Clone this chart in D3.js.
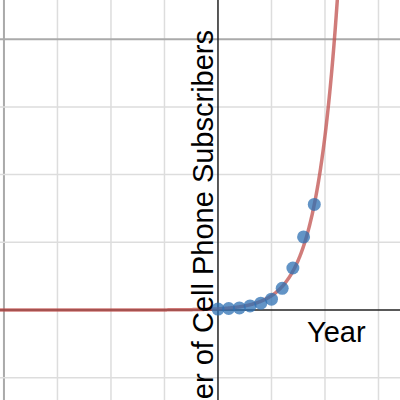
<!DOCTYPE html><html><head><script src="https://cdn.jsdelivr.net/npm/d3@7"></script>
<style>body{margin:0;background:#fff}</style></head><body><svg width="400" height="400"></svg><script>
const years=[0,1,2,3,4,5,6,7,8,9];
const subscribers=[0.7,1.1,1.5,3,5,8,16,31,54,78];
const curveA=0.86, curveB=1.65;
const svg=d3.select("svg");
const x=d3.scaleLinear().domain([-20.37,17.01]).range([0,400]);
const y=d3.scaleLinear().domain([-66.5,229]).range([400,0]);
const g=svg.append("g");
for(let v=-20;v<=20;v+=5){ if(v===0)continue; g.append("line").attr("x1",x(v)).attr("x2",x(v)).attr("y1",0).attr("y2",400)
 .attr("stroke",v%20===0?"#aaa":"#ddd").attr("stroke-width",v%20===0?2:1.5);}
for(let v=-50;v<=250;v+=50){ if(v===0)continue; g.append("line").attr("y1",y(v)).attr("y2",y(v)).attr("x1",0).attr("x2",400)
 .attr("stroke",v%200===0?"#aaa":"#ddd").attr("stroke-width",v%200===0?2:1.5);}
g.append("line").attr("x1",x(0)).attr("x2",x(0)).attr("y1",0).attr("y2",400).attr("stroke","#222").attr("stroke-width",1.5);
g.append("line").attr("y1",y(0)).attr("y2",y(0)).attr("x1",0).attr("x2",400).attr("stroke","#222").attr("stroke-width",1.5);
const xs=d3.range(-21,11.3,0.05);
svg.append("path").datum(xs).attr("fill","none").attr("stroke","#c0504d").attr("stroke-opacity",0.75).attr("stroke-width",3.5)
 .attr("d",d3.line().x(d=>x(d)).y(d=>y(curveA*Math.pow(curveB,d))));
svg.selectAll("circle").data(years).join("circle").attr("cx",d=>x(d)).attr("cy",(d,i)=>y(subscribers[i])).attr("r",6.5)
 .attr("fill","#2d70b3").attr("fill-opacity",0.75);
svg.append("text").attr("x",307).attr("y",342).attr("font-family","Liberation Sans, Arial").attr("font-size",29).text("Year");
svg.append("text").attr("transform",`translate(${x(0)-5},30) rotate(-90)`).attr("text-anchor","end").attr("font-family","Liberation Sans, Arial").attr("font-size",29).text("Number of Cell Phone Subscribers");
</script></body></html>
